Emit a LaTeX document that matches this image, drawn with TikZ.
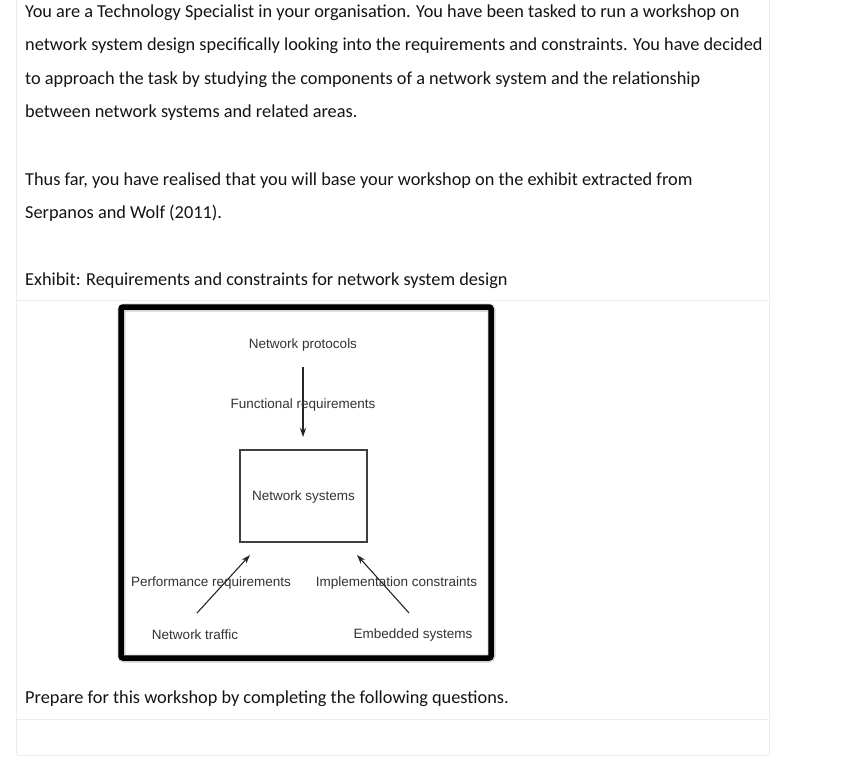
\documentclass[tikz,border=0pt]{standalone}
\usepackage{fontspec}
\setmainfont{Carlito}
\newfontfamily\diafont{Liberation Sans}
\usetikzlibrary{arrows.meta}
\definecolor{cellline}{HTML}{EDEDED}
\definecolor{bodytext}{HTML}{141414}
\definecolor{diatext}{HTML}{333333}
\tikzset{
  body/.style={anchor=base west, inner sep=0pt, text=bodytext, font=\fontsize{18.3}{22}\selectfont},
  lbl/.style={inner sep=0pt, text=diatext, font=\diafont\fontsize{13.5}{16}\selectfont},
  cell/.style={draw=cellline, line width=1pt},
  conn/.style={draw=black!85, line width=1.1pt, -{Stealth[length=9pt,width=6pt]}},
  sysbox/.style={draw=black!75, line width=1.1pt, minimum width=127pt, minimum height=92pt, inner sep=0pt}
}
\begin{document}
\begin{tikzpicture}[x=1pt,y=-1pt]
\useasboundingbox (0,0) rectangle (842,776);
\fill[white] (0,0) rectangle (842,776);
% cell borders
\draw[cell] (16.5,0) -- (16.5,755);
\draw[cell] (769,0) -- (769,755);
\draw[cell] (16.5,300) -- (769,300);
\draw[cell] (16.5,719) -- (769,719);
\draw[cell] (16.5,755) -- (769,755);
% body text
\node[body] (t1) at (25,18) {You are a Technology Specialist in your organisation. You have been tasked to run a workshop on};
\node[body] (t2) at (25,51) {network system design specifically looking into the requirements and constraints. You have decided};
\node[body] (t3) at (25,84) {to approach the task by studying the components of a network system and the relationship};
\node[body] (t4) at (25,117) {between network systems and related areas.};
\node[body] (t5) at (25,185) {Thus far, you have realised that you will base your workshop on the exhibit extracted from};
\node[body] (t6) at (25,218) {Serpanos and Wolf (2011).};
\node[body] (t7) at (25,285) {Exhibit: Requirements and constraints for network system design};
\node[body] (t8) at (25,703) {Prepare for this workshop by completing the following questions.};
% exhibit frame
\draw[black!18, line width=8pt, rounded corners=3pt] (121.5,307.5) rectangle (491.5,658.5);
\draw[black, line width=5.5pt, rounded corners=2pt] (121,307) rectangle (491,658);
% diagram
\node[sysbox] (sys) at (303.5,496) {};
\node[lbl] (syslbl) at (303.5,497.5) {Network systems};
\coordinate (vtop) at (303,367);
\coordinate (vtip) at (303,437);
\coordinate (ltail) at (197,613);
\coordinate (ltip) at (250,555);
\coordinate (rtail) at (409,613);
\coordinate (rtip) at (357,555);
\draw[conn] (vtop) -- (vtip);
\draw[conn] (ltail) -- (ltip);
\draw[conn] (rtail) -- (rtip);
\node[lbl] (proto) at (303,345.5) {Network protocols};
\node[lbl] (func) at (303,405.5) {Functional requirements};
\node[lbl] (perf) at (211,582.5) {Performance requirements};
\node[lbl] (impl) at (396.5,582.5) {Implementation constraints};
\node[lbl] (traffic) at (195,634.5) {Network traffic};
\node[lbl] (embed) at (413,634.5) {Embedded systems};
\end{tikzpicture}
\end{document}
